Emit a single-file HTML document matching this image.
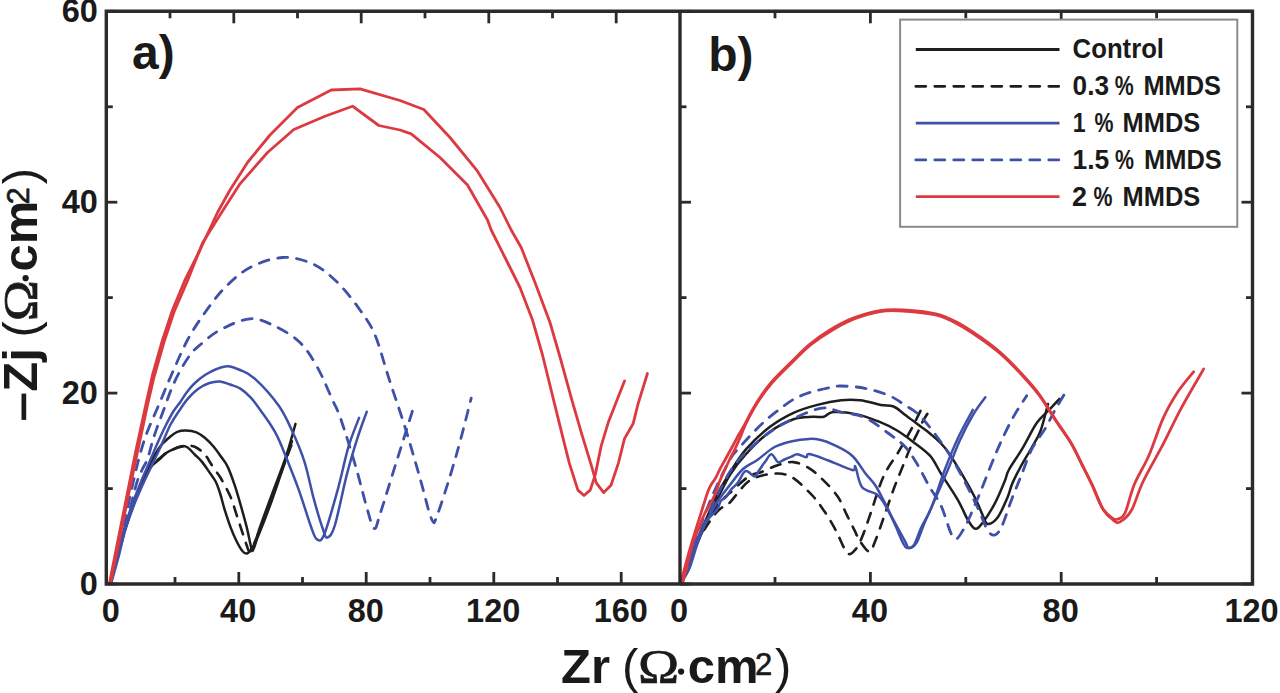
<!DOCTYPE html>
<html><head><meta charset="utf-8"><style>
html,body{margin:0;padding:0;background:#fff;width:1280px;height:693px;overflow:hidden;font-family:"Liberation Sans",sans-serif;}
svg{display:block}
#w{}
</style></head><body>
<div id="w"><svg width="1280" height="693" viewBox="0 0 1280 693">
<rect width="1280" height="693" fill="#fff"/>
<path d="M110.0,583.0 C111.2,578.5 114.6,564.7 117.0,556.0 C119.4,547.3 121.8,539.5 124.5,531.0 C127.2,522.5 130.2,512.9 133.0,505.0 C135.8,497.1 138.7,490.3 141.5,483.5 C144.3,476.7 146.9,470.1 150.0,464.0 C153.1,457.9 156.9,451.0 160.0,446.7 C163.1,442.4 165.8,440.5 168.7,438.0 C171.6,435.5 174.4,433.1 177.3,431.9 C180.2,430.7 182.8,430.5 186.0,430.6 C189.2,430.7 193.2,431.2 196.4,432.4 C199.6,433.6 202.2,435.6 205.1,438.0 C208.0,440.4 211.1,443.7 213.7,446.7 C216.3,449.7 218.4,452.9 220.7,456.2 C223.0,459.5 225.3,461.9 227.6,466.6 C229.9,471.3 232.3,478.2 234.5,484.6 C236.7,491.0 238.6,497.7 240.6,504.8 C242.6,511.9 245.0,520.4 246.7,527.1 C248.4,533.9 249.7,541.3 250.7,545.3 C251.7,549.3 251.6,551.5 252.5,551.0 C253.4,550.5 254.9,545.5 256.0,542.0 C257.1,538.5 256.4,537.8 259.0,530.0 C261.6,522.2 267.3,507.0 271.7,495.0 C276.1,483.0 281.5,469.9 285.5,458.0 C289.5,446.1 293.8,429.6 295.5,423.9" fill="none" stroke="#1e1e1e" stroke-width="2.5" stroke-linejoin="round" stroke-linecap="round"/>
<path d="M110.0,583.0 C111.2,578.5 114.6,564.7 117.0,556.0 C119.4,547.3 121.8,539.3 124.5,531.0 C127.2,522.7 130.2,513.7 133.0,506.0 C135.8,498.3 138.7,491.3 141.5,485.0 C144.3,478.7 146.9,472.4 150.0,468.0 C153.1,463.6 157.5,461.2 160.0,458.8 C162.5,456.4 163.0,455.2 165.2,453.6 C167.4,452.0 170.2,450.5 173.0,449.3 C175.8,448.1 179.2,446.5 181.7,446.2 C184.1,445.9 185.5,446.1 187.7,447.5 C189.9,448.9 192.4,452.2 194.7,454.5 C197.0,456.8 199.3,458.7 201.6,461.4 C203.9,464.1 206.2,467.6 208.5,470.9 C210.8,474.2 213.6,477.6 215.5,481.3 C217.4,485.0 218.5,488.4 220.0,493.0 C221.5,497.6 222.7,503.2 224.4,508.9 C226.2,514.6 228.5,521.7 230.5,527.1 C232.5,532.5 234.6,537.2 236.6,541.2 C238.6,545.2 240.9,549.2 242.6,551.3 C244.3,553.3 245.4,554.0 247.0,553.5 C248.6,553.0 250.2,550.8 252.0,548.0 C253.8,545.2 254.5,545.0 257.8,537.0 C261.1,529.0 266.3,516.0 272.0,500.0 C277.7,484.0 288.7,451.0 292.0,441.2" fill="none" stroke="#1e1e1e" stroke-width="2.5" stroke-linejoin="round" stroke-linecap="round"/>
<path d="M110.0,583.0 C111.2,578.5 114.6,564.7 117.0,556.0 C119.4,547.3 121.8,539.3 124.5,531.0 C127.2,522.7 130.2,513.7 133.0,506.0 C135.8,498.3 138.7,491.3 141.5,485.0 C144.3,478.7 146.9,472.5 150.0,468.0 C153.1,463.5 156.7,460.8 160.0,458.0 C163.3,455.2 166.7,452.8 170.0,451.0 C173.3,449.2 177.0,447.8 180.0,447.0 C183.0,446.2 185.6,446.1 188.0,446.0 C190.4,445.9 192.1,445.6 194.7,446.7 C197.2,447.8 201.0,450.5 203.3,452.7 C205.6,454.9 206.8,457.1 208.5,459.7 C210.2,462.3 211.7,465.2 213.7,468.3 C215.7,471.4 217.9,473.2 220.7,478.0 C223.5,482.8 227.8,490.7 230.5,496.8 C233.2,502.9 234.6,508.8 236.6,514.9 C238.6,520.9 240.9,528.0 242.6,533.1 C244.3,538.2 245.5,542.2 246.7,545.3 C247.8,548.4 248.4,551.4 249.5,551.5 C250.6,551.6 251.6,548.9 253.0,546.0 C254.4,543.1 255.2,541.2 258.0,534.0 C260.8,526.8 266.0,513.7 270.0,503.0 C274.0,492.3 278.2,480.3 282.0,470.0 C285.8,459.7 291.2,445.8 293.0,441.0" fill="none" stroke="#1e1e1e" stroke-width="2.6" stroke-linejoin="round" stroke-linecap="round" stroke-dasharray="10,9"/>
<path d="M681.0,582.0 C682.5,577.7 686.1,565.8 690.0,556.0 C693.9,546.2 700.2,532.8 704.5,523.0 C708.8,513.2 711.9,505.2 716.0,497.0 C720.1,488.8 724.1,481.9 729.1,474.0 C734.1,466.1 739.1,457.2 745.9,449.4 C752.7,441.6 761.8,433.2 769.7,427.1 C777.6,421.0 785.6,416.6 793.5,412.9 C801.4,409.2 809.4,407.0 817.3,404.9 C825.2,402.8 834.0,401.0 841.1,400.2 C848.2,399.4 853.6,399.4 860.2,400.2 C866.8,401.0 875.2,403.8 880.8,404.9 C886.3,405.9 889.5,404.9 893.5,406.5 C897.5,408.1 900.6,411.5 904.6,414.4 C908.6,417.3 913.1,420.8 917.3,424.0 C921.5,427.2 925.2,429.3 930.0,433.5 C934.8,437.7 940.4,442.0 945.9,449.1 C951.4,456.2 958.2,467.9 963.1,476.1 C968.0,484.3 972.0,491.7 975.3,498.2 C978.6,504.7 980.7,511.0 982.7,515.3 C984.8,519.6 985.2,523.5 987.6,523.9 C990.0,524.3 994.1,522.1 997.4,517.8 C1000.7,513.5 1004.8,503.8 1007.2,498.2 C1009.7,492.6 1010.0,489.0 1012.1,484.0 C1014.2,479.0 1016.7,474.2 1020.0,468.0 C1023.3,461.8 1028.6,453.2 1032.0,447.0 C1035.4,440.8 1037.8,438.2 1040.5,431.0 C1043.2,423.8 1046.8,408.5 1048.0,404.0" fill="none" stroke="#1e1e1e" stroke-width="2.5" stroke-linejoin="round" stroke-linecap="round"/>
<path d="M681.0,582.0 C682.7,577.8 687.0,566.3 691.0,557.0 C695.0,547.7 700.7,535.5 705.0,526.0 C709.3,516.5 712.8,508.5 717.0,500.0 C721.2,491.5 725.2,482.4 730.0,474.8 C734.8,467.2 739.3,461.2 745.9,454.1 C752.5,447.0 761.8,437.7 769.7,431.9 C777.6,426.1 786.4,421.7 793.5,419.2 C800.6,416.7 807.5,417.2 812.5,416.8 C817.5,416.4 820.2,417.6 823.7,416.8 C827.2,416.0 827.7,412.5 833.2,412.1 C838.8,411.7 849.1,412.7 857.0,414.4 C864.9,416.1 874.2,419.8 880.8,422.4 C887.4,425.0 891.4,427.1 896.7,430.3 C902.0,433.5 907.0,437.2 912.5,441.4 C918.0,445.6 925.2,450.3 930.0,455.7 C934.8,461.1 936.3,466.1 941.0,473.6 C945.7,481.1 953.7,492.8 958.2,500.6 C962.7,508.4 965.1,515.5 968.0,520.2 C970.9,524.9 972.8,528.4 975.3,528.8 C977.8,529.2 979.4,527.0 982.7,522.7 C986.0,518.4 991.3,510.1 995.0,503.1 C998.7,496.2 1002.5,486.5 1004.8,481.0 C1007.1,475.5 1005.9,475.3 1008.8,470.0 C1011.6,464.7 1017.3,456.9 1022.0,449.1 C1026.7,441.3 1032.2,429.5 1036.7,423.0 C1041.2,416.5 1045.2,414.0 1049.0,410.0 C1052.8,406.0 1057.8,400.8 1059.5,398.9" fill="none" stroke="#1e1e1e" stroke-width="2.5" stroke-linejoin="round" stroke-linecap="round"/>
<path d="M681.0,582.0 C682.0,579.3 685.0,571.3 687.0,566.0 C689.0,560.7 690.8,555.3 693.0,550.0 C695.2,544.7 697.5,539.2 700.0,534.0 C702.5,528.8 705.3,523.5 708.0,519.0 C710.7,514.5 713.7,510.2 716.0,507.0 C718.3,503.8 719.8,502.2 722.0,500.0 C724.2,497.8 724.6,497.5 729.1,493.6 C733.6,489.7 743.3,480.0 748.7,476.4 C754.1,472.8 756.9,473.9 761.7,472.0 C766.5,470.1 772.3,466.8 777.6,465.2 C782.9,463.6 788.2,461.6 793.5,462.1 C798.8,462.6 804.6,465.5 809.4,468.4 C814.2,471.3 817.8,474.8 822.5,479.4 C827.2,484.0 833.4,490.4 837.5,496.3 C841.6,502.2 844.1,509.5 846.9,515.1 C849.7,520.7 852.2,525.7 854.4,530.1 C856.6,534.5 857.5,537.7 860.0,541.3 C862.5,544.9 866.9,551.7 869.4,551.7 C871.9,551.7 872.9,546.5 875.1,541.3 C877.3,536.1 879.5,529.5 882.6,520.7 C885.7,512.0 890.0,498.8 893.8,488.8 C897.5,478.8 902.5,467.1 905.1,460.6 C907.7,454.1 907.8,453.4 909.3,450.0 C910.8,446.6 912.5,443.2 914.0,440.0 C915.5,436.8 917.0,434.0 918.5,430.8 C920.0,427.6 921.3,424.1 923.0,421.0 C924.7,417.9 927.6,413.5 928.5,412.0" fill="none" stroke="#1e1e1e" stroke-width="2.6" stroke-linejoin="round" stroke-linecap="round" stroke-dasharray="10,9"/>
<path d="M681.0,582.0 C682.0,579.5 685.0,572.0 687.0,567.0 C689.0,562.0 690.8,557.0 693.0,552.0 C695.2,547.0 697.5,541.7 700.0,537.0 C702.5,532.3 705.3,528.0 708.0,524.0 C710.7,520.0 713.7,515.8 716.0,513.0 C718.3,510.2 719.8,509.1 722.0,507.5 C724.2,505.9 724.6,507.8 729.1,503.4 C733.6,499.0 741.8,486.2 748.7,481.3 C755.7,476.4 763.8,474.8 770.8,474.0 C777.8,473.2 783.6,473.0 790.4,476.4 C797.1,479.8 805.6,488.6 811.3,494.4 C817.0,500.2 820.3,505.4 824.4,511.3 C828.5,517.2 832.0,523.2 835.7,530.1 C839.5,537.0 843.8,549.2 846.9,552.6 C850.0,556.0 851.9,553.2 854.4,550.7 C856.9,548.2 859.1,544.2 861.9,537.6 C864.7,531.0 868.2,520.4 871.3,511.3 C874.4,502.2 877.9,490.4 880.7,483.2 C883.5,476.0 885.4,472.7 888.0,468.0 C890.6,463.3 893.8,459.5 896.6,455.0 C899.4,450.5 901.9,446.0 904.6,441.2 C907.3,436.4 909.9,432.0 913.0,426.0 C916.1,420.0 921.6,408.5 923.3,405.0" fill="none" stroke="#1e1e1e" stroke-width="2.6" stroke-linejoin="round" stroke-linecap="round" stroke-dasharray="10,9"/>
<path d="M111.0,581.0 C112.0,576.8 115.0,564.5 117.0,556.0 C119.0,547.5 121.2,538.3 123.0,530.0 C124.8,521.7 126.3,513.8 128.0,506.0 C129.7,498.2 131.2,490.7 133.0,483.0 C134.8,475.3 136.7,467.0 138.5,460.0 C140.3,453.0 142.3,446.3 144.0,441.0 C145.7,435.7 146.3,434.1 148.8,428.0 C151.3,421.9 155.3,413.1 158.9,404.6 C162.5,396.1 165.6,388.0 170.4,377.2 C175.2,366.4 181.7,350.8 187.5,340.0 C193.3,329.2 198.8,321.2 205.0,312.5 C211.2,303.8 217.5,295.0 225.0,287.5 C232.5,280.0 240.4,272.5 250.0,267.5 C259.6,262.5 272.1,258.1 282.5,257.5 C292.9,256.9 303.3,259.6 312.5,263.8 C321.7,267.9 329.6,274.8 337.5,282.5 C345.4,290.2 353.8,301.2 360.0,310.0 C366.2,318.8 370.1,323.3 375.0,335.0 C379.9,346.7 384.5,364.9 389.4,380.0 C394.3,395.1 399.4,409.3 404.5,425.5 C409.6,441.7 415.1,461.4 419.7,477.0 C424.2,492.6 428.8,513.4 431.8,519.4 C434.8,525.4 433.8,523.9 437.9,513.3 C441.9,502.7 450.6,475.0 456.1,455.8 C461.7,436.6 468.7,407.8 471.2,398.2" fill="none" stroke="#3f50a8" stroke-width="2.8" stroke-linejoin="round" stroke-linecap="round" stroke-dasharray="10,9"/>
<path d="M111.0,581.0 C112.2,576.8 115.7,564.5 118.0,556.0 C120.3,547.5 122.8,538.5 125.0,530.0 C127.2,521.5 129.0,513.0 131.0,505.0 C133.0,497.0 135.2,487.8 137.0,482.0 C138.8,476.2 140.3,473.8 142.0,470.0 C143.7,466.2 145.7,463.7 147.3,459.5 C148.9,455.3 150.1,449.8 151.5,445.0 C152.9,440.2 153.8,436.9 156.0,430.6 C158.2,424.4 162.1,414.3 164.6,407.5 C167.1,400.7 168.6,395.8 171.0,390.0 C173.4,384.2 175.8,378.7 179.0,372.9 C182.2,367.1 186.5,359.6 190.0,355.0 C193.5,350.4 195.0,349.2 200.0,345.0 C205.0,340.8 211.7,334.4 220.0,330.0 C228.3,325.6 240.8,319.4 250.0,318.8 C259.2,318.1 266.7,322.3 275.0,326.2 C283.3,330.2 292.9,335.6 300.0,342.5 C307.1,349.4 312.1,357.9 317.5,367.5 C322.9,377.1 328.6,391.4 332.5,400.0 C336.4,408.6 337.0,408.1 340.9,419.4 C344.8,430.7 351.8,453.2 356.1,467.9 C360.4,482.5 363.7,497.2 366.7,507.3 C369.7,517.4 371.9,527.5 374.2,528.5 C376.5,529.5 376.8,523.9 380.3,513.3 C383.9,502.7 389.9,482.5 395.5,464.8 C401.1,447.1 410.6,416.9 413.6,407.3" fill="none" stroke="#3f50a8" stroke-width="2.8" stroke-linejoin="round" stroke-linecap="round" stroke-dasharray="10,9"/>
<path d="M111.0,582.0 C112.1,577.8 115.4,565.5 117.5,557.0 C119.6,548.5 121.1,539.7 123.5,531.0 C125.9,522.3 129.2,513.0 132.0,505.0 C134.8,497.0 137.6,490.2 140.5,483.0 C143.4,475.8 146.6,468.8 149.5,462.0 C152.4,455.2 155.2,448.2 158.0,442.0 C160.8,435.8 163.6,429.8 166.1,424.8 C168.6,419.8 170.6,415.9 173.0,412.0 C175.4,408.1 178.2,405.0 180.5,401.7 C182.8,398.4 184.6,395.1 187.0,392.0 C189.4,388.9 191.9,385.8 194.9,383.0 C197.9,380.2 201.4,377.3 205.0,375.0 C208.6,372.7 212.8,370.5 216.6,369.0 C220.3,367.5 223.6,366.1 227.5,366.2 C231.4,366.4 235.4,367.9 240.0,370.0 C244.6,372.1 248.5,372.8 255.0,378.8 C261.5,384.7 272.6,397.0 278.8,405.8 C285.0,414.6 288.1,422.2 292.4,431.5 C296.7,440.8 301.0,450.7 304.5,461.8 C308.0,472.9 310.6,487.1 313.6,498.2 C316.6,509.3 320.4,521.9 322.7,528.5 C325.0,535.1 325.3,538.1 327.3,537.6 C329.3,537.1 331.5,536.1 334.8,525.5 C338.1,514.9 343.2,488.5 347.0,473.9 C350.8,459.2 354.3,448.0 357.6,437.6 C360.9,427.2 365.2,416.1 366.7,411.8" fill="none" stroke="#3f50a8" stroke-width="2.5" stroke-linejoin="round" stroke-linecap="round"/>
<path d="M111.5,582.0 C112.7,577.8 116.2,565.5 118.5,557.0 C120.8,548.5 122.4,539.7 125.0,531.0 C127.6,522.3 131.0,512.8 134.0,505.0 C137.0,497.2 140.0,490.7 143.0,484.0 C146.0,477.3 149.0,471.3 152.0,465.0 C155.0,458.7 157.9,452.7 161.0,446.0 C164.1,439.3 167.4,430.6 170.4,424.8 C173.4,419.0 176.1,415.3 179.0,411.0 C181.9,406.7 184.5,402.6 187.7,398.9 C190.9,395.2 194.4,391.6 198.0,389.0 C201.6,386.4 205.7,384.2 209.4,383.0 C213.1,381.8 216.6,381.2 220.0,381.5 C223.4,381.8 226.6,383.3 230.0,384.5 C233.4,385.7 236.9,386.4 240.4,388.6 C243.9,390.8 247.6,394.2 250.8,397.7 C254.1,401.2 256.9,405.3 259.9,409.4 C262.9,413.5 266.2,418.0 269.0,422.3 C271.8,426.6 274.4,430.7 276.8,435.3 C279.2,439.9 279.6,441.0 283.2,450.0 C286.8,459.0 293.9,476.5 298.5,489.1 C303.1,501.7 307.6,517.2 310.6,525.5 C313.6,533.8 314.4,537.6 316.7,539.1 C319.0,540.6 320.7,542.8 324.2,534.5 C327.7,526.2 333.8,503.7 337.9,489.1 C341.9,474.5 345.0,458.6 348.5,446.7 C352.0,434.8 357.3,422.7 359.1,417.9" fill="none" stroke="#3f50a8" stroke-width="2.5" stroke-linejoin="round" stroke-linecap="round"/>
<path d="M681.0,582.0 C682.5,577.7 686.8,565.2 690.0,556.0 C693.2,546.8 696.0,537.7 700.0,527.0 C704.0,516.3 709.0,503.2 714.0,492.0 C719.0,480.8 725.7,467.0 730.0,459.5 C734.3,452.0 736.4,451.2 740.0,447.0 C743.6,442.8 747.6,438.4 751.5,434.3 C755.4,430.2 758.9,426.6 763.1,422.7 C767.4,418.8 772.0,415.0 777.0,411.2 C782.0,407.4 787.7,402.7 793.1,399.6 C798.5,396.5 803.1,394.7 809.3,392.7 C815.5,390.7 824.8,388.6 830.1,387.5 C835.4,386.4 835.3,385.9 841.1,386.0 C846.9,386.1 857.0,386.7 864.9,388.3 C872.8,389.9 882.1,392.6 888.7,395.4 C895.3,398.2 899.2,401.3 904.6,404.9 C910.0,408.5 914.4,409.8 921.3,417.2 C928.2,424.6 938.9,438.9 945.9,449.1 C952.9,459.3 957.8,468.7 963.1,478.5 C968.4,488.3 973.7,499.4 977.8,508.0 C981.9,516.6 984.7,525.6 987.6,530.1 C990.5,534.6 992.5,535.8 995.0,535.0 C997.5,534.2 999.4,531.3 1002.3,525.2 C1005.1,519.1 1008.8,506.8 1012.1,498.2 C1015.4,489.6 1018.7,481.8 1022.0,473.6 C1025.3,465.4 1028.0,456.5 1031.8,449.1 C1035.6,441.7 1040.7,436.1 1044.7,429.4 C1048.7,422.7 1051.8,415.6 1055.6,409.0 C1059.4,402.4 1065.3,392.8 1067.3,389.5" fill="none" stroke="#3f50a8" stroke-width="2.8" stroke-linejoin="round" stroke-linecap="round" stroke-dasharray="10,9"/>
<path d="M681.0,582.0 C682.7,578.0 687.5,566.7 691.0,558.0 C694.5,549.3 697.8,540.0 702.0,530.0 C706.2,520.0 711.2,508.0 716.0,498.0 C720.8,488.0 726.0,477.6 731.0,470.0 C736.0,462.4 739.4,458.8 745.9,452.5 C752.4,446.2 761.8,437.8 770.0,432.0 C778.2,426.2 786.3,422.0 795.0,418.0 C803.7,414.0 814.4,409.1 822.1,408.1 C829.8,407.1 834.0,410.5 841.1,412.1 C848.2,413.7 857.0,414.0 864.9,417.6 C872.8,421.2 882.1,428.7 888.7,433.5 C895.3,438.3 900.0,441.4 904.6,446.2 C909.2,451.0 912.1,455.7 916.3,462.5 C920.4,469.3 925.4,479.7 929.5,486.9 C933.6,494.1 937.0,497.1 941.0,505.5 C945.0,513.9 949.6,533.3 953.3,537.4 C957.0,541.5 959.0,536.6 963.1,530.1 C967.2,523.6 973.0,509.2 977.8,498.2 C982.5,487.1 987.8,473.2 991.6,463.8 C995.5,454.4 997.3,449.7 1000.9,441.9 C1004.5,434.1 1009.1,424.6 1013.4,416.9 C1017.7,409.2 1024.5,399.3 1026.7,395.8" fill="none" stroke="#3f50a8" stroke-width="2.8" stroke-linejoin="round" stroke-linecap="round" stroke-dasharray="10,9"/>
<path d="M682.5,580.0 C683.7,577.9 687.4,573.0 689.8,567.2 C692.2,561.4 694.5,552.0 697.0,545.0 C699.5,538.0 701.3,532.3 704.5,525.5 C707.7,518.7 711.9,510.6 716.0,504.0 C720.1,497.4 724.6,491.8 729.1,486.0 C733.6,480.2 738.3,473.3 743.0,469.0 C747.7,464.7 752.0,463.7 757.3,460.0 C762.6,456.3 768.8,450.1 774.6,447.0 C780.4,443.9 786.2,442.6 792.0,441.2 C797.8,439.8 804.5,439.1 809.3,438.9 C814.1,438.7 816.8,439.1 820.8,440.0 C824.8,440.9 828.0,442.0 833.2,444.6 C838.4,447.2 846.8,450.8 852.2,455.7 C857.6,460.6 861.9,468.9 865.7,473.8 C869.5,478.7 872.0,480.3 875.1,485.0 C878.2,489.7 881.3,495.9 884.4,501.9 C887.5,507.8 890.3,514.1 893.8,520.7 C897.2,527.3 902.6,536.8 905.1,541.3 C907.6,545.8 906.9,547.6 908.8,547.9 C910.7,548.2 913.8,547.1 916.3,543.2 C918.8,539.3 921.4,530.3 923.9,524.4 C926.4,518.5 927.4,516.7 931.4,507.6 C935.4,498.5 943.0,481.3 947.8,470.0 C952.6,458.7 955.8,449.2 960.0,440.0 C964.2,430.8 968.7,422.1 972.9,415.0 C977.1,407.9 983.2,400.2 985.3,397.3" fill="none" stroke="#3f50a8" stroke-width="2.5" stroke-linejoin="round" stroke-linecap="round"/>
<path d="M681.5,582.0 C682.2,580.8 684.6,577.7 686.0,575.0 C687.4,572.3 688.9,569.8 690.0,566.0 C691.1,562.2 691.3,556.3 692.5,552.0 C693.7,547.7 695.2,544.0 697.0,540.0 C698.8,536.0 701.0,531.7 703.0,528.0 C705.0,524.3 706.7,521.0 709.0,518.0 C711.3,515.0 714.9,512.9 716.9,510.1 C718.9,507.3 719.3,503.2 720.8,501.0 C722.3,498.8 724.3,499.0 726.0,497.1 C727.7,495.2 729.2,491.8 731.2,489.4 C733.2,487.0 735.3,485.9 737.7,482.9 C740.1,479.9 742.7,472.3 745.5,471.2 C748.3,470.1 752.4,476.4 754.5,476.4 C756.6,476.4 756.7,473.6 758.4,471.2 C760.1,468.8 762.7,464.9 764.9,462.1 C767.1,459.3 769.2,454.3 771.4,454.3 C773.6,454.3 775.7,461.2 777.9,462.1 C780.1,463.0 782.2,460.4 784.4,459.5 C786.6,458.6 788.7,457.8 790.9,456.9 C793.1,456.0 794.8,454.2 797.4,454.3 C800.0,454.4 804.2,457.3 806.2,457.3 C808.2,457.3 805.7,453.6 809.4,454.1 C813.1,454.6 821.3,457.9 828.4,460.5 C835.5,463.1 847.7,468.9 852.2,470.0 C856.7,471.1 853.8,464.0 855.4,466.8 C857.0,469.6 858.3,482.3 861.9,486.9 C865.5,491.5 873.1,491.6 876.9,494.4 C880.6,497.2 881.6,499.2 884.4,503.8 C887.2,508.4 890.7,515.5 893.8,522.0 C896.9,528.5 900.8,538.7 903.0,543.0 C905.2,547.3 905.2,547.7 907.0,548.0 C908.8,548.3 911.7,548.3 914.0,545.0 C916.3,541.7 918.1,534.2 921.0,528.0 C923.9,521.8 927.2,517.7 931.2,508.0 C935.2,498.3 940.2,481.7 944.7,470.0 C949.2,458.3 953.3,448.0 958.0,438.0 C962.7,428.0 970.3,414.5 972.8,409.8" fill="none" stroke="#3f50a8" stroke-width="2.5" stroke-linejoin="round" stroke-linecap="round"/>
<path d="M109.5,583.0 L118.0,540.0 L126.0,500.0 L136.0,450.0 L146.2,403.0 L152.5,375.0 L162.5,340.0 L172.5,310.0 L185.0,280.0 L200.0,250.0 L217.5,212.5 L230.0,190.0 L247.5,162.5 L270.0,135.0 L297.5,107.5 L331.2,90.0 L360.0,88.8 L400.0,100.5 L423.8,109.5 L450.0,137.5 L477.5,171.2 L500.0,207.5 L511.2,230.0 L521.2,247.5 L535.0,282.5 L550.0,322.5 L560.0,357.0 L571.7,399.3 L581.6,433.7 L591.4,465.6 L596.3,482.8 L603.7,492.6 L611.0,485.2 L618.4,463.1 L624.5,438.6 L633.1,423.8 L638.0,404.2 L647.4,373.5" fill="none" stroke="#dc3a40" stroke-width="2.8" stroke-linejoin="round" stroke-linecap="round"/>
<path d="M110.5,583.0 L119.0,542.0 L127.0,502.0 L137.5,452.0 L147.5,405.0 L154.0,377.0 L164.0,342.0 L174.0,312.0 L187.0,282.0 L202.5,243.0 L220.0,215.0 L240.0,183.8 L267.5,152.5 L293.8,129.5 L325.0,116.2 L352.5,106.2 L378.8,125.5 L400.0,130.0 L411.2,133.8 L440.0,157.5 L467.5,185.0 L487.5,220.0 L491.2,230.0 L505.0,257.5 L520.0,287.5 L532.5,320.0 L542.5,355.0 L554.6,404.2 L561.9,433.7 L569.3,463.1 L577.9,490.1 L584.0,495.5 L590.2,490.1 L595.1,475.4 L601.2,445.9 L608.6,421.4 L624.5,380.9" fill="none" stroke="#dc3a40" stroke-width="2.8" stroke-linejoin="round" stroke-linecap="round"/>
<path d="M680.6,583.8 C681.5,580.3 684.2,569.6 686.0,563.0 C687.8,556.4 689.6,550.1 691.3,544.4 C693.0,538.7 694.5,534.0 696.0,529.0 C697.5,524.0 699.2,518.9 700.6,514.4 C702.0,509.9 703.2,505.9 704.5,502.0 C705.8,498.1 706.9,494.0 708.1,491.0 C709.3,488.0 710.2,486.2 711.5,484.0 C712.8,481.8 714.2,480.5 715.6,478.0 C717.0,475.5 718.4,472.0 720.0,469.0 C721.6,466.0 723.2,463.3 725.0,460.0 C726.8,456.7 728.8,453.0 731.0,449.0 C733.2,445.0 735.7,440.2 738.0,436.0 C740.3,431.8 742.8,428.1 745.0,424.0 C747.2,419.9 749.2,415.6 751.5,411.5 C753.8,407.4 756.2,403.4 758.7,399.5 C761.2,395.6 763.9,391.5 766.6,388.0 C769.3,384.5 770.7,382.7 774.8,378.4 C778.9,374.1 785.1,367.9 791.0,362.2 C796.9,356.5 803.2,349.6 810.0,344.1 C816.8,338.6 824.3,333.3 831.5,329.0 C838.7,324.7 845.1,321.2 853.2,318.1 C861.3,315.0 871.6,312.0 880.0,310.6 C888.4,309.2 894.0,309.4 903.3,309.9 C912.6,310.4 926.8,311.7 935.8,313.8 C944.8,315.9 949.8,318.5 957.4,322.5 C965.0,326.5 974.0,332.6 981.2,337.6 C988.4,342.7 993.9,346.7 1000.7,352.8 C1007.6,358.9 1015.8,367.4 1022.3,374.4 C1028.8,381.4 1034.2,387.4 1039.7,395.0 C1045.2,402.6 1050.3,411.7 1055.6,419.7 C1060.8,427.7 1066.9,435.7 1071.2,443.1 C1075.5,450.5 1078.1,457.0 1081.6,463.9 C1085.0,470.8 1088.5,477.3 1091.9,484.7 C1095.4,492.1 1098.8,502.4 1102.3,508.0 C1105.8,513.6 1110.1,516.6 1112.7,518.4 C1115.3,520.2 1116.0,519.9 1118.0,519.0 C1120.0,518.1 1122.3,518.8 1125.0,513.0 C1127.7,507.2 1130.4,493.9 1134.4,484.3 C1138.4,474.7 1144.1,466.6 1148.9,455.5 C1153.7,444.4 1158.5,428.5 1163.3,417.9 C1168.1,407.3 1172.7,399.7 1177.7,392.0 C1182.8,384.3 1190.9,375.2 1193.6,371.8" fill="none" stroke="#dc3a40" stroke-width="2.8" stroke-linejoin="round" stroke-linecap="round"/>
<path d="M682.5,583.8 C683.4,580.2 686.2,569.0 688.0,562.0 C689.8,555.0 691.4,547.3 693.1,542.0 C694.8,536.7 696.7,533.5 698.1,530.0 C699.5,526.5 700.3,523.9 701.5,521.0 C702.7,518.1 704.0,515.0 705.2,512.5 C706.5,510.0 707.8,508.0 709.0,506.0 C710.2,504.0 711.0,502.8 712.2,500.4 C713.4,497.9 715.1,494.3 716.3,491.3 C717.5,488.3 718.1,485.2 719.3,482.2 C720.5,479.2 721.6,476.8 723.3,473.1 C725.0,469.4 727.5,463.9 729.4,460.0 C731.3,456.1 732.8,453.5 734.5,450.0 C736.2,446.5 737.6,443.4 739.5,439.0 C741.4,434.6 743.8,428.2 746.0,423.5 C748.2,418.8 750.2,415.0 752.5,411.0 C754.8,407.0 757.0,403.2 759.5,399.5 C762.0,395.8 764.8,391.9 767.5,388.5 C770.2,385.1 771.5,383.2 775.5,379.0 C779.5,374.8 785.7,368.7 791.5,363.0 C797.3,357.3 803.7,350.5 810.5,345.0 C817.3,339.5 825.2,334.3 832.5,330.0 C839.8,325.7 846.1,322.1 854.0,319.0 C861.9,315.9 871.8,312.8 880.0,311.5 C888.2,310.2 894.0,310.4 903.3,311.0 C912.6,311.6 926.8,312.8 935.8,315.0 C944.8,317.2 949.8,320.0 957.4,324.0 C965.0,328.0 974.0,334.0 981.2,339.0 C988.4,344.0 993.9,347.9 1000.7,354.0 C1007.6,360.1 1015.8,368.5 1022.3,375.5 C1028.8,382.5 1034.1,388.4 1039.7,396.0 C1045.3,403.6 1050.7,412.9 1056.0,421.0 C1061.3,429.1 1067.4,437.1 1071.8,444.5 C1076.2,451.9 1079.0,458.5 1082.5,465.5 C1086.0,472.5 1089.5,479.1 1093.0,486.5 C1096.5,493.9 1100.0,504.3 1103.5,510.0 C1107.0,515.7 1111.0,518.5 1113.7,520.5 C1116.5,522.5 1117.0,523.6 1120.0,521.9 C1123.0,520.2 1127.7,517.0 1131.5,510.3 C1135.3,503.6 1137.8,492.6 1143.1,481.5 C1148.4,470.4 1157.0,455.9 1163.3,443.9 C1169.5,431.9 1173.9,421.8 1180.6,409.3 C1187.3,396.8 1199.8,375.6 1203.7,368.9" fill="none" stroke="#dc3a40" stroke-width="2.8" stroke-linejoin="round" stroke-linecap="round"/>
<path d="M106.3,11.3 H1252.5 V584 H106.3 Z" fill="none" stroke="#2b2b2b" stroke-width="3.4"/>
<line x1="680" y1="11.3" x2="680" y2="584" stroke="#2b2b2b" stroke-width="3.4"/>
<line x1="106.3" y1="584.0" x2="117.3" y2="584.0" stroke="#2b2b2b" stroke-width="2.8"/>
<line x1="680" y1="584.0" x2="691.0" y2="584.0" stroke="#2b2b2b" stroke-width="2.8"/>
<line x1="1252.5" y1="584.0" x2="1241.5" y2="584.0" stroke="#2b2b2b" stroke-width="2.8"/>
<line x1="106.3" y1="488.6" x2="112.8" y2="488.6" stroke="#2b2b2b" stroke-width="2.8"/>
<line x1="680" y1="488.6" x2="686.5" y2="488.6" stroke="#2b2b2b" stroke-width="2.8"/>
<line x1="1252.5" y1="488.6" x2="1246.0" y2="488.6" stroke="#2b2b2b" stroke-width="2.8"/>
<line x1="106.3" y1="393.1" x2="117.3" y2="393.1" stroke="#2b2b2b" stroke-width="2.8"/>
<line x1="680" y1="393.1" x2="691.0" y2="393.1" stroke="#2b2b2b" stroke-width="2.8"/>
<line x1="1252.5" y1="393.1" x2="1241.5" y2="393.1" stroke="#2b2b2b" stroke-width="2.8"/>
<line x1="106.3" y1="297.6" x2="112.8" y2="297.6" stroke="#2b2b2b" stroke-width="2.8"/>
<line x1="680" y1="297.6" x2="686.5" y2="297.6" stroke="#2b2b2b" stroke-width="2.8"/>
<line x1="1252.5" y1="297.6" x2="1246.0" y2="297.6" stroke="#2b2b2b" stroke-width="2.8"/>
<line x1="106.3" y1="202.2" x2="117.3" y2="202.2" stroke="#2b2b2b" stroke-width="2.8"/>
<line x1="680" y1="202.2" x2="691.0" y2="202.2" stroke="#2b2b2b" stroke-width="2.8"/>
<line x1="1252.5" y1="202.2" x2="1241.5" y2="202.2" stroke="#2b2b2b" stroke-width="2.8"/>
<line x1="106.3" y1="106.8" x2="112.8" y2="106.8" stroke="#2b2b2b" stroke-width="2.8"/>
<line x1="680" y1="106.8" x2="686.5" y2="106.8" stroke="#2b2b2b" stroke-width="2.8"/>
<line x1="1252.5" y1="106.8" x2="1246.0" y2="106.8" stroke="#2b2b2b" stroke-width="2.8"/>
<line x1="106.3" y1="11.3" x2="117.3" y2="11.3" stroke="#2b2b2b" stroke-width="2.8"/>
<line x1="680" y1="11.3" x2="691.0" y2="11.3" stroke="#2b2b2b" stroke-width="2.8"/>
<line x1="1252.5" y1="11.3" x2="1241.5" y2="11.3" stroke="#2b2b2b" stroke-width="2.8"/>
<line x1="175.0" y1="584" x2="175.0" y2="577" stroke="#2b2b2b" stroke-width="2.8"/>
<line x1="170.0" y1="11.3" x2="170.0" y2="18.3" stroke="#2b2b2b" stroke-width="2.8"/>
<line x1="238.8" y1="584" x2="238.8" y2="572" stroke="#2b2b2b" stroke-width="2.8"/>
<line x1="233.8" y1="11.3" x2="233.8" y2="23.3" stroke="#2b2b2b" stroke-width="2.8"/>
<line x1="302.5" y1="584" x2="302.5" y2="577" stroke="#2b2b2b" stroke-width="2.8"/>
<line x1="297.5" y1="11.3" x2="297.5" y2="18.3" stroke="#2b2b2b" stroke-width="2.8"/>
<line x1="366.2" y1="584" x2="366.2" y2="572" stroke="#2b2b2b" stroke-width="2.8"/>
<line x1="361.2" y1="11.3" x2="361.2" y2="23.3" stroke="#2b2b2b" stroke-width="2.8"/>
<line x1="430.0" y1="584" x2="430.0" y2="577" stroke="#2b2b2b" stroke-width="2.8"/>
<line x1="425.0" y1="11.3" x2="425.0" y2="18.3" stroke="#2b2b2b" stroke-width="2.8"/>
<line x1="493.8" y1="584" x2="493.8" y2="572" stroke="#2b2b2b" stroke-width="2.8"/>
<line x1="488.8" y1="11.3" x2="488.8" y2="23.3" stroke="#2b2b2b" stroke-width="2.8"/>
<line x1="557.5" y1="584" x2="557.5" y2="577" stroke="#2b2b2b" stroke-width="2.8"/>
<line x1="552.5" y1="11.3" x2="552.5" y2="18.3" stroke="#2b2b2b" stroke-width="2.8"/>
<line x1="621.2" y1="584" x2="621.2" y2="572" stroke="#2b2b2b" stroke-width="2.8"/>
<line x1="616.2" y1="11.3" x2="616.2" y2="23.3" stroke="#2b2b2b" stroke-width="2.8"/>
<line x1="775.0" y1="584" x2="775.0" y2="577" stroke="#2b2b2b" stroke-width="2.8"/>
<line x1="775.0" y1="11.3" x2="775.0" y2="18.3" stroke="#2b2b2b" stroke-width="2.8"/>
<line x1="870.4" y1="584" x2="870.4" y2="572" stroke="#2b2b2b" stroke-width="2.8"/>
<line x1="870.4" y1="11.3" x2="870.4" y2="23.3" stroke="#2b2b2b" stroke-width="2.8"/>
<line x1="965.8" y1="584" x2="965.8" y2="577" stroke="#2b2b2b" stroke-width="2.8"/>
<line x1="965.8" y1="11.3" x2="965.8" y2="18.3" stroke="#2b2b2b" stroke-width="2.8"/>
<line x1="1061.2" y1="584" x2="1061.2" y2="572" stroke="#2b2b2b" stroke-width="2.8"/>
<line x1="1061.2" y1="11.3" x2="1061.2" y2="23.3" stroke="#2b2b2b" stroke-width="2.8"/>
<line x1="1156.6" y1="584" x2="1156.6" y2="577" stroke="#2b2b2b" stroke-width="2.8"/>
<line x1="1156.6" y1="11.3" x2="1156.6" y2="18.3" stroke="#2b2b2b" stroke-width="2.8"/>
<rect x="900.1" y="19.6" width="337.2" height="207.2" fill="#fff" stroke="#8a8a8a" stroke-width="2"/>
<line x1="915.8" y1="49.5" x2="1059.5" y2="49.5" stroke="#1e1e1e" stroke-width="2.8"/>
<line x1="915.8" y1="86.3" x2="1059.5" y2="86.3" stroke="#1e1e1e" stroke-width="2.8" stroke-dasharray="10,9" stroke-linecap="round"/>
<line x1="915.8" y1="123.1" x2="1059.5" y2="123.1" stroke="#3f50a8" stroke-width="2.8"/>
<line x1="915.8" y1="159.9" x2="1059.5" y2="159.9" stroke="#3f50a8" stroke-width="2.8" stroke-dasharray="10,9" stroke-linecap="round"/>
<line x1="915.8" y1="196.7" x2="1059.5" y2="196.7" stroke="#dc3a40" stroke-width="2.8"/>
<text transform="translate(1072.6,58.0) scale(0.953,1)" font-family="Liberation Sans, sans-serif" font-weight="bold" font-size="27" fill="#1a1a1a">Control</text>
<text transform="translate(1072.6,95.0) scale(0.97,1)" font-family="Liberation Sans, sans-serif" font-weight="bold" font-size="27" fill="#1a1a1a">0.3</text>
<text transform="translate(1114.7,95.0) scale(0.79,1)" font-family="Liberation Sans, sans-serif" font-weight="bold" font-size="27" fill="#1a1a1a">%</text>
<text transform="translate(1143.4,95.0) scale(0.942,1)" font-family="Liberation Sans, sans-serif" font-weight="bold" font-size="27" fill="#1a1a1a">MMDS</text>
<text transform="translate(1072.8,131.6) scale(0.86,1)" font-family="Liberation Sans, sans-serif" font-weight="bold" font-size="27" fill="#1a1a1a">1</text>
<text transform="translate(1094.4,131.6) scale(0.79,1)" font-family="Liberation Sans, sans-serif" font-weight="bold" font-size="27" fill="#1a1a1a">%</text>
<text transform="translate(1122.6,131.6) scale(0.942,1)" font-family="Liberation Sans, sans-serif" font-weight="bold" font-size="27" fill="#1a1a1a">MMDS</text>
<text transform="translate(1072.5,168.6) scale(0.98,1)" font-family="Liberation Sans, sans-serif" font-weight="bold" font-size="27" fill="#1a1a1a">1.5</text>
<text transform="translate(1115.0,168.6) scale(0.79,1)" font-family="Liberation Sans, sans-serif" font-weight="bold" font-size="27" fill="#1a1a1a">%</text>
<text transform="translate(1144.1,168.6) scale(0.942,1)" font-family="Liberation Sans, sans-serif" font-weight="bold" font-size="27" fill="#1a1a1a">MMDS</text>
<text transform="translate(1071.9,205.6) scale(1.0,1)" font-family="Liberation Sans, sans-serif" font-weight="bold" font-size="27" fill="#1a1a1a">2</text>
<text transform="translate(1093.6,205.6) scale(0.79,1)" font-family="Liberation Sans, sans-serif" font-weight="bold" font-size="27" fill="#1a1a1a">%</text>
<text transform="translate(1122.6,205.6) scale(0.942,1)" font-family="Liberation Sans, sans-serif" font-weight="bold" font-size="27" fill="#1a1a1a">MMDS</text>
<text x="97.8" y="595.0" font-family="Liberation Sans, sans-serif" font-weight="bold" font-size="32.5" text-anchor="end" fill="#1a1a1a">0</text>
<text x="97.8" y="404.1" font-family="Liberation Sans, sans-serif" font-weight="bold" font-size="32.5" text-anchor="end" fill="#1a1a1a">20</text>
<text x="97.8" y="213.2" font-family="Liberation Sans, sans-serif" font-weight="bold" font-size="32.5" text-anchor="end" fill="#1a1a1a">40</text>
<text x="97.8" y="22.3" font-family="Liberation Sans, sans-serif" font-weight="bold" font-size="32.5" text-anchor="end" fill="#1a1a1a">60</text>
<text x="110.8" y="622" font-family="Liberation Sans, sans-serif" font-weight="bold" font-size="32.5" text-anchor="middle" fill="#1a1a1a">0</text>
<text x="238.2" y="622" font-family="Liberation Sans, sans-serif" font-weight="bold" font-size="32.5" text-anchor="middle" fill="#1a1a1a">40</text>
<text x="365.8" y="622" font-family="Liberation Sans, sans-serif" font-weight="bold" font-size="32.5" text-anchor="middle" fill="#1a1a1a">80</text>
<text x="493.2" y="622" font-family="Liberation Sans, sans-serif" font-weight="bold" font-size="32.5" text-anchor="middle" fill="#1a1a1a">120</text>
<text x="620.8" y="622" font-family="Liberation Sans, sans-serif" font-weight="bold" font-size="32.5" text-anchor="middle" fill="#1a1a1a">160</text>
<text x="679.1" y="622" font-family="Liberation Sans, sans-serif" font-weight="bold" font-size="32.5" text-anchor="middle" fill="#1a1a1a">0</text>
<text x="869.9" y="622" font-family="Liberation Sans, sans-serif" font-weight="bold" font-size="32.5" text-anchor="middle" fill="#1a1a1a">40</text>
<text x="1060.7" y="622" font-family="Liberation Sans, sans-serif" font-weight="bold" font-size="32.5" text-anchor="middle" fill="#1a1a1a">80</text>
<text x="1251.5" y="622" font-family="Liberation Sans, sans-serif" font-weight="bold" font-size="32.5" text-anchor="middle" fill="#1a1a1a">120</text>
<text x="132.1" y="69.1" font-family="Liberation Sans, sans-serif" font-weight="bold" font-size="48" fill="#1a1a1a">a)</text>
<text x="708.2" y="70.9" font-family="Liberation Sans, sans-serif" font-weight="bold" font-size="48" fill="#1a1a1a">b)</text>
<g transform="translate(562.1,682.5)"><text x="-1.0" y="0" font-family="Liberation Sans, sans-serif" font-weight="bold" font-size="49" fill="#1a1a1a">Zr</text><text x="59.8" y="0" font-family="Liberation Sans, sans-serif" font-size="49" fill="#1a1a1a">(</text><text transform="translate(75.9,0) scale(1.12,1)" font-family="Liberation Serif, serif" font-size="49.5" stroke="#1a1a1a" stroke-width="0.7" fill="#1a1a1a">&#937;</text><text x="125.6" y="0" font-family="Liberation Sans, sans-serif" font-weight="bold" font-size="49" fill="#1a1a1a">cm</text><text x="192.8" y="-7.8" font-family="Liberation Sans, sans-serif" font-size="31" stroke="#1a1a1a" stroke-width="0.6" fill="#1a1a1a">2</text><text x="212.9" y="0" font-family="Liberation Sans, sans-serif" font-size="49" fill="#1a1a1a">)</text><circle cx="119.0" cy="-10.9" r="3.1" fill="#1a1a1a"/></g>
<g transform="translate(36.5,390.8) rotate(-90)"><text x="-1.0" y="0" font-family="Liberation Sans, sans-serif" font-weight="bold" font-size="49" fill="#1a1a1a">Zj</text><text x="53.4" y="0" font-family="Liberation Sans, sans-serif" font-size="49" fill="#1a1a1a">(</text><text transform="translate(69.5,0) scale(1.12,1)" font-family="Liberation Serif, serif" font-size="49.5" stroke="#1a1a1a" stroke-width="0.7" fill="#1a1a1a">&#937;</text><text x="119.2" y="0" font-family="Liberation Sans, sans-serif" font-weight="bold" font-size="49" fill="#1a1a1a">cm</text><text x="186.4" y="-7.8" font-family="Liberation Sans, sans-serif" font-size="31" stroke="#1a1a1a" stroke-width="0.6" fill="#1a1a1a">2</text><text x="206.5" y="0" font-family="Liberation Sans, sans-serif" font-size="49" fill="#1a1a1a">)</text><circle cx="112.6" cy="-10.9" r="3.1" fill="#1a1a1a"/><rect x="-29.1" y="-15.0" width="26.3" height="4.7" fill="#1a1a1a"/></g>
</svg></div>
</body></html>
